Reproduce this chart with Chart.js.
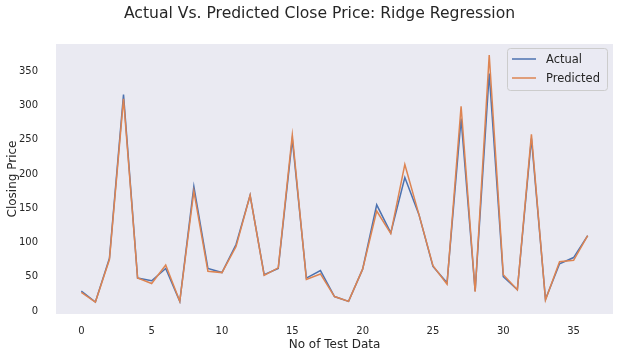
<!DOCTYPE html>
<html>
<head>
<meta charset="utf-8">
<script src="https://cdn.jsdelivr.net/npm/chart.js@4/dist/chart.umd.min.js"></script>
<style>
  body { margin: 0; background: #ffffff; }
  #wrap { width: 619px; height: 358px; position: relative; }
</style>
</head>
<body>
<div id="wrap"><canvas id="chart"></canvas></div>
<script>
// test sample index
const testIndex = [0, 1, 2, 3, 4, 5, 6, 7, 8, 9, 10, 11, 12, 13, 14, 15, 16, 17, 18,
  19, 20, 21, 22, 23, 24, 25, 26, 27, 28, 29, 30, 31, 32, 33, 34, 35, 36];
const actual = [29, 13, 77, 316, 48, 44, 62, 14, 182, 62, 56, 97, 169, 53, 62, 251, 48, 59, 21,
  14, 61, 155, 114, 195, 141, 65, 41, 281, 29, 347, 50, 31, 252, 17, 69, 78, 110];
const predicted = [27, 13, 75, 310, 48, 40, 67, 14, 175, 58, 56, 94, 169, 52, 63, 257, 46, 54, 21,
  14, 61, 146, 113, 214, 141, 66, 39, 299, 28, 374, 53, 31, 258, 16, 72, 74, 110];
const xTicks = [0, 5, 10, 15, 20, 25, 30, 35];
const yTicks = [0, 50, 100, 150, 200, 250, 300, 350];

const FONT = "'DejaVu Sans', sans-serif";
const TEXT = '#262626';

const toPoints = vals => vals.map((v, i) => ({ x: testIndex[i], y: v }));

// grey axes background (seaborn style)
const bgPlugin = {
  id: 'bg',
  beforeDraw(chart) {
    const { ctx, chartArea: a } = chart;
    ctx.save();
    ctx.fillStyle = '#eaeaf2';
    ctx.fillRect(a.left, a.top, a.right - a.left, a.bottom - a.top);
    ctx.restore();
  }
};

// figure title + legend in upper right
const decoPlugin = {
  id: 'deco',
  afterDraw(chart) {
    const { ctx, chartArea: a } = chart;
    ctx.save();
    ctx.fillStyle = TEXT;
    ctx.font = '15.6px ' + FONT;
    ctx.textAlign = 'center';
    ctx.textBaseline = 'middle';
    ctx.fillText('Actual Vs. Predicted Close Price: Ridge Regression', chart.width / 2 + 10, 14);

    const bx = a.right - 106, by = a.top + 4, bw = 100, bh = 42;
    ctx.beginPath();
    ctx.roundRect(bx + 0.5, by + 0.5, bw, bh, 3);
    ctx.fillStyle = 'rgba(234,234,242,0.8)';
    ctx.fill();
    ctx.strokeStyle = '#cccccc';
    ctx.lineWidth = 1;
    ctx.stroke();

    const items = [0, 1].map(i => chart.data.datasets[i]);
    ctx.font = '11.5px ' + FONT;
    ctx.textAlign = 'left';
    items.forEach((ds, k) => {
      const y = by + 11 + k * 19;
      ctx.beginPath();
      ctx.moveTo(bx + 5, y);
      ctx.lineTo(bx + 29, y);
      ctx.strokeStyle = ds.borderColor;
      ctx.lineWidth = 1.5;
      ctx.stroke();
      ctx.fillStyle = TEXT;
      ctx.fillText(ds.label, bx + 39, y + 1);
    });
    ctx.restore();
  }
};

new Chart(document.getElementById('chart'), {
  type: 'line',
  data: {
    datasets: [
      { label: 'Actual', data: toPoints(actual), borderColor: '#4c72b0', borderWidth: 1.5,
        pointRadius: 0, tension: 0, order: 1 },
      { label: 'Predicted', data: toPoints(predicted), borderColor: '#dd8452', borderWidth: 1.5,
        pointRadius: 0, tension: 0, order: 0 }
    ]
  },
  options: {
    responsive: true,
    maintainAspectRatio: false,
    animation: false,
    layout: { padding: { top: 44, right: 6, left: 0, bottom: 0 } },
    plugins: { legend: { display: false }, title: { display: false }, tooltip: { enabled: false } },
    scales: {
      x: {
        type: 'linear', min: -1.8, max: 37.8,
        grid: { display: false }, border: { display: false },
        afterBuildTicks: s => { s.ticks = xTicks.map(v => ({ value: v })); },
        afterFit: s => { s.height = 44; },
        ticks: { color: TEXT, font: { family: FONT, size: 10 }, padding: 3, maxRotation: 0 },
        title: { display: true, text: 'No of Test Data', color: TEXT,
          font: { family: FONT, size: 12 }, padding: { top: 0, bottom: 6 } }
      },
      y: {
        type: 'linear', min: -4.5, max: 390,
        grid: { display: false }, border: { display: false },
        afterBuildTicks: s => { s.ticks = yTicks.map(v => ({ value: v })); },
        afterFit: s => { s.width = 56; },
        ticks: { color: TEXT, font: { family: FONT, size: 10 }, padding: 10 },
        title: { display: true, text: 'Closing Price', color: TEXT,
          font: { family: FONT, size: 12 }, padding: { top: 6, bottom: 0 } }
      }
    }
  },
  plugins: [bgPlugin, decoPlugin]
});
</script>
</body>
</html>
